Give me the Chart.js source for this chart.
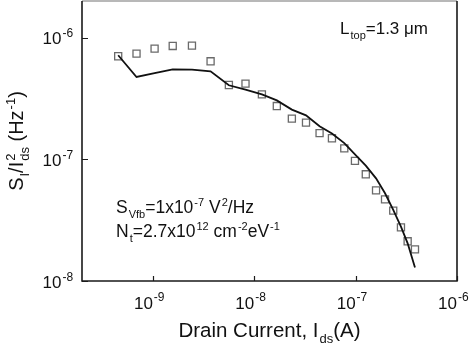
<!DOCTYPE html>
<html>
<head>
<meta charset="utf-8">
<script src="https://cdn.jsdelivr.net/npm/chart.js@4.4.1/dist/chart.umd.min.js"></script>
<style>
  html, body { margin: 0; padding: 0; background: #fff; }
</style>
</head>
<body>
<canvas id="noiseChart" width="474" height="345"></canvas>
<script>
// drain current (A) and normalized noise S_I/I_ds^2 (1/Hz)
const drainCurrent = [4.55e-10, 6.9e-10, 1.04e-9, 1.57e-9, 2.43e-9, 3.71e-9, 5.62e-9, 8.2e-9,
  1.19e-8, 1.67e-8, 2.35e-8, 3.24e-8, 4.41e-8, 5.84e-8, 7.73e-8, 9.85e-8,
  1.26e-7, 1.59e-7, 1.95e-7, 2.35e-7, 2.8e-7, 3.26e-7, 3.85e-7];
const measuredNoise = [7.03e-7, 7.39e-7, 8.12e-7, 8.54e-7, 8.6e-7, 6.39e-7, 4.08e-7, 4.19e-7,
  3.42e-7, 2.74e-7, 2.16e-7, 2.0e-7, 1.64e-7, 1.49e-7, 1.23e-7, 9.7e-8,
  7.53e-8, 5.56e-8, 4.69e-8, 3.79e-8, 2.76e-8, 2.12e-8, 1.82e-8];
const modelNoise = [7.16e-7, 4.75e-7, 5.12e-7, 5.49e-7, 5.46e-7, 5.29e-7, 4.06e-7, 3.74e-7,
  3.42e-7, 3.05e-7, 2.56e-7, 2.3e-7, 1.87e-7, 1.63e-7, 1.36e-7, 1.1e-7,
  8.87e-8, 6.98e-8, 5.26e-8, 3.84e-8, 2.8e-8, 2.04e-8, 1.29e-8];

const xTicks = [1e-9, 1e-8, 1e-7, 1e-6];
const xTickExps = ['-9', '-8', '-7', '-6'];
const yTicks = [1e-6, 1e-7, 1e-8];
const yTickExps = ['-6', '-7', '-8'];

const FONT = '"Liberation Sans", Arial, Helvetica, sans-serif';

// draws a run of text pieces; each piece is [text, mode] with mode 'n', 'sup', 'sub'
// or [supText, 'stack', subText] for a superscript sitting above a subscript
function richWidth(ctx, parts, size) {
  let w = 0;
  for (const p of parts) {
    if (p[1] === 'n') { ctx.font = size + 'px ' + FONT; w += ctx.measureText(p[0]).width; }
    else if (p[1] === 'stack') {
      ctx.font = Math.round(size * 0.65) + 'px ' + FONT;
      w += Math.max(ctx.measureText(p[0]).width, ctx.measureText(p[2]).width) + 1;
    } else { ctx.font = Math.round(size * 0.65) + 'px ' + FONT; w += ctx.measureText(p[0]).width + 1; }
  }
  return w;
}

function drawRich(ctx, parts, x, y, size, align) {
  let cx = x;
  if (align === 'center') cx = x - richWidth(ctx, parts, size) / 2;
  else if (align === 'right') cx = x - richWidth(ctx, parts, size);
  ctx.textAlign = 'left';
  ctx.textBaseline = 'alphabetic';
  const small = Math.round(size * 0.65);
  for (const p of parts) {
    if (p[1] === 'n') {
      ctx.font = size + 'px ' + FONT;
      ctx.fillText(p[0], cx, y);
      cx += ctx.measureText(p[0]).width;
    } else if (p[1] === 'sup') {
      ctx.font = small + 'px ' + FONT;
      ctx.fillText(p[0], cx + 1, y - size * 0.42);
      cx += ctx.measureText(p[0]).width + 1;
    } else if (p[1] === 'sub') {
      ctx.font = small + 'px ' + FONT;
      ctx.fillText(p[0], cx + 1, y + size * 0.3);
      cx += ctx.measureText(p[0]).width + 1;
    } else {
      ctx.font = small + 'px ' + FONT;
      ctx.fillText(p[0], cx + 1, y - size * 0.42);
      ctx.fillText(p[2], cx + 1, y + size * 0.3);
      cx += Math.max(ctx.measureText(p[0]).width, ctx.measureText(p[2]).width) + 1;
    }
  }
}

const framePlugin = {
  id: 'frame',
  afterDraw(chart) {
    const ctx = chart.ctx;
    const a = chart.chartArea;
    const xs = chart.scales.x, ys = chart.scales.y;
    ctx.save();

    // top edge is a faint grey rule, the rest of the box is black
    ctx.strokeStyle = '#b8b8b8';
    ctx.lineWidth = 2;
    ctx.beginPath();
    ctx.moveTo(a.left, a.top);
    ctx.lineTo(a.right, a.top);
    ctx.stroke();

    ctx.strokeStyle = '#1a1a1a';
    ctx.lineWidth = 1.6;
    ctx.beginPath();
    ctx.moveTo(a.left, a.top);
    ctx.lineTo(a.left, a.bottom);
    ctx.lineTo(a.right, a.bottom);
    ctx.lineTo(a.right, a.top);
    ctx.stroke();

    // inward tick marks
    ctx.lineWidth = 1.2;
    ctx.beginPath();
    xTicks.forEach(v => {
      const px = Math.round(xs.getPixelForValue(v)) + 0.5;
      ctx.moveTo(px, a.bottom);
      ctx.lineTo(px, a.bottom - 5);
    });
    yTicks.forEach(v => {
      const py = Math.round(ys.getPixelForValue(v)) + 0.5;
      ctx.moveTo(a.left, py);
      ctx.lineTo(a.left + 6, py);
    });
    ctx.stroke();

    ctx.fillStyle = '#111';
    // tick labels: "10" ends on the tick, exponent follows
    xTicks.forEach((v, i) => {
      const px = xs.getPixelForValue(v);
      ctx.font = '17px ' + FONT;
      ctx.textAlign = 'right';
      ctx.textBaseline = 'alphabetic';
      ctx.fillText('10', px, 309);
      ctx.font = '12px ' + FONT;
      ctx.textAlign = 'left';
      ctx.fillText(xTickExps[i], px + 1, 301);
    });
    yTicks.forEach((v, i) => {
      const py = ys.getPixelForValue(v);
      ctx.font = '17px ' + FONT;
      ctx.textAlign = 'right';
      ctx.fillText('10', 61.5, py + 6.5);
      ctx.font = '12px ' + FONT;
      ctx.textAlign = 'left';
      ctx.fillText(yTickExps[i], 62.5, py - 0.5);
    });

    // axis titles
    drawRich(ctx, [['Drain Current, I', 'n'], ['ds', 'sub'], ['(A)', 'n']],
      (a.left + a.right) / 2, 337, 20.5, 'center');

    ctx.save();
    ctx.translate(23, (a.top + a.bottom) / 2);
    ctx.rotate(-Math.PI / 2);
    drawRich(ctx, [['S', 'n'], ['I', 'sub'], ['/I', 'n'], ['2', 'stack', 'ds'], [' (Hz', 'n'], ['-1', 'sup'], [')', 'n']],
      0, 0, 20, 'center');
    ctx.restore();

    // annotations inside the plot
    drawRich(ctx, [['L', 'n'], ['top', 'sub'], ['=1.3 \u03bcm', 'n']], 340, 34, 17, 'left');
    drawRich(ctx, [['S', 'n'], ['Vfb', 'sub'], ['=1x10', 'n'], ['-7', 'sup'], [' V', 'n'], ['2', 'sup'], ['/Hz', 'n']],
      116, 213, 17.5, 'left');
    drawRich(ctx, [['N', 'n'], ['t', 'sub'], ['=2.7x10', 'n'], ['12', 'sup'], [' cm', 'n'], ['-2', 'sup'], ['eV', 'n'], ['-1', 'sup']],
      116, 237, 17.5, 'left');

    ctx.restore();
  }
};

new Chart(document.getElementById('noiseChart').getContext('2d'), {
  type: 'scatter',
  data: {
    datasets: [{
      label: 'model',
      data: drainCurrent.map((x, i) => ({ x: x, y: modelNoise[i] })),
      showLine: true,
      borderColor: '#111',
      borderWidth: 1.8,
      pointRadius: 0,
      tension: 0,
      fill: false
    }, {
      label: 'measured',
      data: drainCurrent.map((x, i) => ({ x: x, y: measuredNoise[i] })),
      showLine: false,
      pointStyle: 'rect',
      pointRadius: 5,
      pointBorderWidth: 1.3,
      pointBorderColor: '#6a6a6a',
      pointBackgroundColor: 'rgba(0,0,0,0)'
    }]
  },
  options: {
    responsive: false,
    animation: false,
    devicePixelRatio: 1,
    layout: { autoPadding: false, padding: { left: 82, right: 17, top: 1, bottom: 64 } },
    scales: {
      x: { type: 'logarithmic', display: false, min: 2e-10, max: 1e-6 },
      y: { type: 'logarithmic', display: false, min: 1e-8, max: 2e-6 }
    },
    plugins: {
      legend: { display: false },
      tooltip: { enabled: false }
    }
  },
  plugins: [framePlugin]
});
</script>
</body>
</html>
